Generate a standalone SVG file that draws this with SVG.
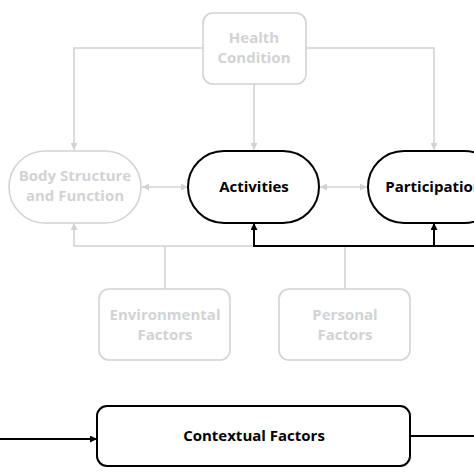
<svg xmlns="http://www.w3.org/2000/svg" width="474" height="474" viewBox="0 0 474 474">
<style>
.g{fill:none;stroke:#d1d3d4;stroke-width:1.6}
.k{fill:none;stroke:#000;stroke-width:2}
.gt{fill:#d1d3d4;font-family:'Open Sans',sans-serif;font-weight:bold;font-size:15px;text-anchor:middle}
.kt{fill:#000;font-family:'Open Sans',sans-serif;font-weight:bold;font-size:15px;text-anchor:middle}
</style>
<defs>
<marker id="ag" viewBox="0 0 10 10" refX="10" refY="5" markerWidth="8" markerHeight="7" markerUnits="userSpaceOnUse" orient="auto-start-reverse"><path d="M0,0 L10,5 L0,10 z" fill="#d1d3d4"/></marker>
<marker id="ak" viewBox="0 0 10 10" refX="10" refY="5" markerWidth="9" markerHeight="7" markerUnits="userSpaceOnUse" orient="auto-start-reverse"><path d="M0,0 L10,5 L0,10 z" fill="#000"/></marker>
</defs>
<rect width="474" height="474" fill="#fff"/>
<g id="connectors">
<path class="g" d="M203,48 H74 V150" marker-end="url(#ag)"/>
<path class="g" d="M306,48 H434 V150" marker-end="url(#ag)"/>
<path class="g" d="M254,84 V150" marker-end="url(#ag)"/>
<path class="g" d="M142,187 H188" marker-start="url(#ag)" marker-end="url(#ag)"/>
<path class="g" d="M320,187 H367" marker-start="url(#ag)" marker-end="url(#ag)"/>
<path class="g" d="M254,246 H74 V223" marker-end="url(#ag)"/>
<path class="g" d="M165,246 V289"/>
<path class="g" d="M345,246 V289"/>
<path class="k" d="M474,246 H254 V223" marker-end="url(#ak)"/>
<path class="k" d="M434,246 V223" marker-end="url(#ak)"/>
<path class="k" d="M0,439 H97" marker-end="url(#ak)"/>
<path class="k" d="M410,436 H474"/>
</g>
<g id="health">
<rect class="g" x="203" y="13" width="103" height="71" rx="10"/>
<text class="gt" x="254" y="43">Health</text>
<text class="gt" x="254" y="63">Condition</text>
</g>
<g id="body">
<rect class="g" x="9" y="151" width="132" height="72" rx="36"/>
<text class="gt" x="75" y="181">Body Structure</text>
<text class="gt" x="75" y="201">and Function</text>
</g>
<g id="activities">
<rect class="k" x="188" y="151" width="131" height="72" rx="36"/>
<text class="kt" x="254" y="192">Activities</text>
</g>
<g id="participation">
<rect class="k" x="368" y="151" width="132" height="72" rx="36"/>
<text class="kt" x="434" y="192">Participation</text>
</g>
<g id="environmental">
<rect class="g" x="99" y="289" width="131" height="71" rx="10"/>
<text class="gt" x="165" y="320">Environmental</text>
<text class="gt" x="165" y="340">Factors</text>
</g>
<g id="personal">
<rect class="g" x="279" y="289" width="131" height="71" rx="10"/>
<text class="gt" x="345" y="320">Personal</text>
<text class="gt" x="345" y="340">Factors</text>
</g>
<g id="contextual">
<rect class="k" x="97" y="406" width="313" height="60" rx="10"/>
<text class="kt" x="254" y="441">Contextual Factors</text>
</g>
</svg>
